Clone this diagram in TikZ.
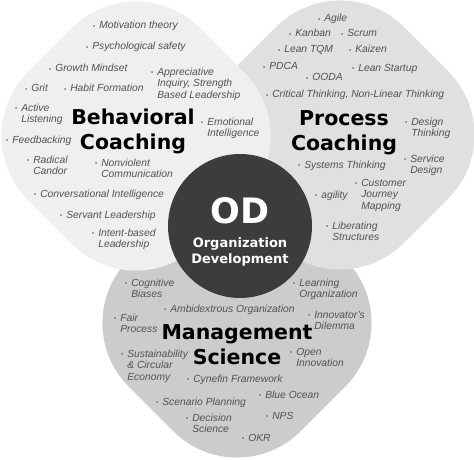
\documentclass[tikz,border=0pt]{standalone}
\usepackage{fontspec}
\setmainfont{Liberation Sans}
\newfontfamily\headfont{DejaVu Sans}
\usetikzlibrary{positioning}

\definecolor{behavfill}{HTML}{EFEFEF}
\definecolor{procfill}{HTML}{E1E0E1}
\definecolor{mgmtfill}{HTML}{CDCCCD}
\definecolor{odfill}{HTML}{3C3C3C}
\definecolor{itemgray}{HTML}{525252}

% bullet point, continuation lines indented under the text
\newcommand{\topic}[1]{\raisebox{0.8pt}{\fontsize{6}{6}\selectfont\textbullet}\hspace{4pt}\begin{tabular}[t]{@{}l@{}}#1\end{tabular}}

\begin{document}
\begin{tikzpicture}[
    x=1pt, y=-1pt,
    blob/.style   ={rectangle, rotate=45, minimum size=243pt, inner sep=0pt,
                    rounded corners=90pt, draw=none},
    odcircle/.style={circle, minimum size=144pt, inner sep=0pt, fill=odfill},
    head/.style   ={anchor=base, inner sep=0pt, text=black,
                    font=\headfont\bfseries\fontsize{20.5}{25}\selectfont},
    odtitle/.style={anchor=base, inner sep=0pt, text=white,
                    font=\headfont\bfseries\fontsize{35}{40}\selectfont},
    odsub/.style  ={anchor=base, inner sep=0pt, text=white,
                    font=\headfont\bfseries\fontsize{13}{16}\selectfont},
    item/.style   ={anchor=base west, inner sep=0pt, text=itemgray,
                    font=\itshape\fontsize{10.3}{11.7}\selectfont}
]
\useasboundingbox (0,0) rectangle (474,460);

% the three fields
\node [blob, fill=mgmtfill]  (mgmt)  at (237,323) {};
\node [blob, fill=procfill]  (proc)  at (340,135) {};
\node [blob, fill=behavfill] (behav) at (136,136) {};
\node [odcircle] (od) at (240,226) {};

% OD centre
\node [odtitle] (od-title) at (240,223) {OD};
\node [odsub] (od-sub1) at (240,247) {Organization};
\node [odsub] (od-sub2) at (240,263) {Development};

% headings
\node [head] (behav-1) at (133,124) {Behavioral};
\node [head] (behav-2) at (133,149) {Coaching};
\node [head] (proc-1)  at (344,125) {Process};
\node [head] (proc-2)  at (344,150) {Coaching};
\node [head] (mgmt-1)  at (237,339) {Management};
\node [head] (mgmt-2)  at (237,364) {Science};

% Behavioral Coaching
\node [item] (b-motiv)   at (93,29)  {\topic{Motivation theory}};
\node [item] (b-psych)   at (86,50)  {\topic{Psychological safety}};
\node [item] (b-growth)  at (49,72)  {\topic{Growth Mindset}};
\node [item] (b-apprec)  at (151,75) {\topic{Appreciative\\Inquiry, Strength\\Based Leadership}};
\node [item] (b-grit)    at (25,92)  {\topic{Grit}};
\node [item] (b-habit)   at (64,92)  {\topic{Habit Formation}};
\node [item] (b-active)  at (15,111) {\topic{Active\\Listening}};
\node [item] (b-emot)    at (201,125) {\topic{Emotional\\Intelligence}};
\node [item] (b-feed)    at (6,143)  {\topic{Feedbacking}};
\node [item] (b-radical) at (27,163) {\topic{Radical\\Candor}};
\node [item] (b-nonviol) at (95,166) {\topic{Nonviolent\\Communication}};
\node [item] (b-convers) at (34,197) {\topic{Conversational Intelligence}};
\node [item] (b-servant) at (60,218) {\topic{Servant Leadership}};
\node [item] (b-intent)  at (92,236) {\topic{Intent-based\\Leadership}};

% Process Coaching
\node [item] (p-agile)    at (318,22)  {\topic{Agile}};
\node [item] (p-kanban)   at (289,37)  {\topic{Kanban}};
\node [item] (p-scrum)    at (341,37)  {\topic{Scrum}};
\node [item] (p-tqm)      at (278,53)  {\topic{Lean TQM}};
\node [item] (p-kaizen)   at (349,53)  {\topic{Kaizen}};
\node [item] (p-pdca)     at (263,70)  {\topic{PDCA}};
\node [item] (p-startup)  at (352,71)  {\topic{Lean Startup}};
\node [item] (p-ooda)     at (306,81)  {\topic{OODA}};
\node [item] (p-critical) at (266,98)  {\topic{Critical Thinking, Non-Linear Thinking}};
\node [item] (p-design)   at (405,125) {\topic{Design\\Thinking}};
\node [item] (p-service)  at (404,162) {\topic{Service\\Design}};
\node [item] (p-systems)  at (298,168) {\topic{Systems Thinking}};
\node [item] (p-journey)  at (355,186) {\topic{Customer\\Journey\\Mapping}};
\node [item] (p-agility)  at (315,198) {\topic{agility}};
\node [item] (p-liberat)  at (326,229) {\topic{Liberating\\Structures}};

% Management Science
\node [item] (m-cognit)   at (125,286) {\topic{Cognitive\\Biases}};
\node [item] (m-learning) at (293,286) {\topic{Learning\\Organization}};
\node [item] (m-ambidex)  at (164,312) {\topic{Ambidextrous Organization}};
\node [item] (m-fair)     at (114,321) {\topic{Fair\\Process}};
\node [item] (m-innov)    at (308,318) {\topic{Innovator's\\Dilemma}};
\node [item] (m-sustain)  at (121,357) {\topic{Sustainability\\\& Circular\\Economy}};
\node [item] (m-open)     at (290,355) {\topic{Open\\Innovation}};
\node [item] (m-cynefin)  at (187,382) {\topic{Cynefin Framework}};
\node [item] (m-scenario) at (156,405) {\topic{Scenario Planning}};
\node [item] (m-blue)     at (259,398) {\topic{Blue Ocean}};
\node [item] (m-decision) at (186,421) {\topic{Decision\\Science}};
\node [item] (m-nps)      at (266,419) {\topic{NPS}};
\node [item] (m-okr)      at (242,441) {\topic{OKR}};
\end{tikzpicture}
\end{document}
